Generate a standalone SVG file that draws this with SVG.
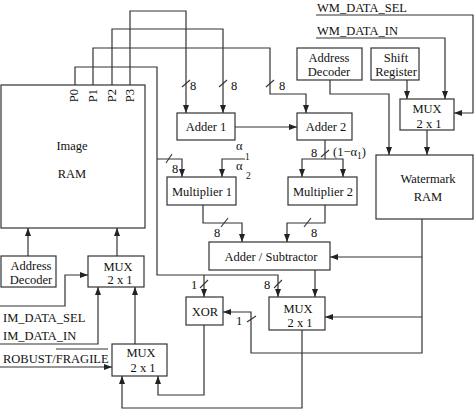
<svg xmlns="http://www.w3.org/2000/svg" width="474" height="410" viewBox="0 0 474 410">
<defs>
<marker id="arr" viewBox="0 0 8 6" refX="8" refY="3" markerWidth="8" markerHeight="6" markerUnits="userSpaceOnUse" orient="auto">
<path d="M0,0 L8,3 L0,6 z" fill="#222"/>
</marker>
<style>
.box{fill:#fff;stroke:#333;stroke-width:1.2}
.c{fill:none;stroke:#333;stroke-width:1.2}
.a{fill:none;stroke:#333;stroke-width:1.2;marker-end:url(#arr)}
.s{stroke:#333;stroke-width:1.1}
text{font-family:"Liberation Serif","Times New Roman",serif;font-size:12.5px;fill:#111}
.m{text-anchor:middle}
.sub{font-size:9.5px}
</style>
</defs>
<rect width="474" height="410" fill="#fff"/>

<g id="connectors">
<path class="a" d="M130,85 V11 H186 V113"/>
<path class="a" d="M112,85 V29 H223 V113"/>
<path class="a" d="M93,85 V48 H270 V94 H306 V113"/>
<path class="a" d="M75,85 V67 H157 V275 H278 V297"/>
<path class="a" d="M157,159 H182 V177"/>
<path class="a" d="M204,275 V297"/>
<path class="a" d="M235,127 H297"/>
<path class="a" d="M325,140 V159 H302 V177"/>
<path class="a" d="M325,159 H343 V177"/>
<path class="a" d="M245,159 H222 V177"/>
<path class="a" d="M203,205 V223 H242 V242"/>
<path class="a" d="M325,205 V223 H287 V242"/>
<path class="a" d="M315,270 V297"/>
<path class="a" d="M422,219 V353 H251 V312 H223"/>
<path class="a" d="M422,257 H330"/>
<path class="a" d="M422,317 H325"/>
<path class="a" d="M302,330 V408 H122 V376"/>
<path class="a" d="M204,325 V395 H158 V376"/>
<path class="a" d="M135,344 V287"/>
<path class="a" d="M28,256 V228"/>
<path class="a" d="M117,256 V228"/>
<path class="a" d="M0,306 H65 V275 H88"/>
<path class="a" d="M0,344 H98 V287"/>
<path class="a" d="M0,367 H112"/>
<path class="a" d="M316,15 H473 V113 H454"/>
<path class="a" d="M316,38 H445 V99"/>
<path class="a" d="M407,80 V99"/>
<path class="a" d="M330,80 V94 H389 V155"/>
<path class="a" d="M427,130 V155"/>
</g>

<g id="bus-marks">
<line class="s" x1="182" y1="87" x2="190" y2="80"/>
<text x="190" y="90">8</text>
<line class="s" x1="219" y1="87" x2="227" y2="80"/>
<text x="231" y="90">8</text>
<line class="s" x1="266" y1="87" x2="274" y2="80"/>
<text x="279" y="90">8</text>
<line class="s" x1="166" y1="163" x2="172" y2="154"/>
<text x="172" y="173">8</text>
<line class="s" x1="321" y1="157" x2="329" y2="150"/>
<text x="311" y="157">8</text>
<line class="s" x1="221" y1="227" x2="228" y2="218"/>
<text x="214" y="237">8</text>
<line class="s" x1="304" y1="227" x2="311" y2="218"/>
<text x="311" y="237">8</text>
<line class="s" x1="200" y1="288" x2="208" y2="280"/>
<text x="191" y="289">1</text>
<line class="s" x1="274" y1="288" x2="282" y2="280"/>
<text x="264" y="289">8</text>
<line class="s" x1="247" y1="322" x2="256" y2="316"/>
<text x="236" y="325">1</text>
</g>

<g id="coef-labels">
<text x="236" y="150">α</text><text class="sub" x="245" y="160">1</text>
<text x="236" y="170">α</text><text class="sub" x="246" y="179">2</text>
<text x="333" y="156">(1−α<tspan class="sub" dy="3">1</tspan><tspan dy="-3">)</tspan></text>
</g>

<g id="image-ram">
<rect class="box" x="1" y="85" width="144" height="143"/>
<text class="m" x="72" y="150">Image</text>
<text class="m" x="72" y="178">RAM</text>
<text text-anchor="end" font-size="12.5" transform="translate(78,89) rotate(-90)">P0</text>
<text text-anchor="end" transform="translate(97,89) rotate(-90)">P1</text>
<text text-anchor="end" transform="translate(116,89) rotate(-90)">P2</text>
<text text-anchor="end" transform="translate(134,89) rotate(-90)">P3</text>
</g>

<g id="adder1">
<rect class="box" x="177" y="113" width="58" height="27"/>
<text class="m" x="206" y="131">Adder 1</text>
</g>
<g id="adder2">
<rect class="box" x="297" y="113" width="55" height="27"/>
<text class="m" x="326" y="131">Adder 2</text>
</g>
<g id="multiplier1">
<rect class="box" x="167" y="177" width="69" height="28"/>
<text class="m" x="202" y="196">Multiplier 1</text>
</g>
<g id="multiplier2">
<rect class="box" x="288" y="177" width="69" height="28"/>
<text class="m" x="323" y="196">Multiplier 2</text>
</g>
<g id="adder-subtractor">
<rect class="box" x="209" y="242" width="121" height="28"/>
<text class="m" x="271" y="261">Adder / Subtractor</text>
</g>
<g id="xor">
<rect class="box" x="186" y="297" width="37" height="28"/>
<text class="m" x="205" y="316">XOR</text>
</g>
<g id="mux-out">
<rect class="box" x="269" y="297" width="56" height="33"/>
<text class="m" x="298" y="313">MUX</text>
<text class="m" x="300" y="327">2 x 1</text>
</g>
<g id="mux-robust">
<rect class="box" x="112" y="344" width="55" height="32"/>
<text class="m" x="141" y="357">MUX</text>
<text class="m" x="143" y="372">2 x 1</text>
</g>
<g id="mux-image">
<rect class="box" x="88" y="256" width="56" height="31"/>
<text class="m" x="118" y="271">MUX</text>
<text class="m" x="120" y="284">2 x 1</text>
</g>
<g id="address-decoder-image">
<rect class="box" x="1" y="256" width="55" height="31"/>
<text class="m" x="31" y="270">Address</text>
<text class="m" x="31" y="284">Decoder</text>
</g>
<g id="address-decoder-wm">
<rect class="box" x="297" y="48" width="65" height="32"/>
<text class="m" x="329" y="62">Address</text>
<text class="m" x="329" y="76">Decoder</text>
</g>
<g id="shift-register">
<rect class="box" x="371" y="48" width="48" height="32"/>
<text class="m" x="396" y="62">Shift</text>
<text class="m" x="396" y="76">Register</text>
</g>
<g id="mux-wm">
<rect class="box" x="400" y="99" width="54" height="31"/>
<text class="m" x="427" y="113">MUX</text>
<text class="m" x="429" y="128">2 x 1</text>
</g>
<g id="watermark-ram">
<rect class="box" x="376" y="155" width="97" height="64"/>
<text class="m" x="428" y="183">Watermark</text>
<text class="m" x="428" y="201">RAM</text>
</g>

<g id="signals">
<text x="317" y="12">WM_DATA_SEL</text>
<text x="317" y="35">WM_DATA_IN</text>
<text x="3" y="322">IM_DATA_SEL</text>
<text x="3" y="340">IM_DATA_IN</text>
<text x="3" y="363">ROBUST/FRAGILE</text>
<line class="s" x1="56" y1="349" x2="108" y2="349"/>
</g>
</svg>
